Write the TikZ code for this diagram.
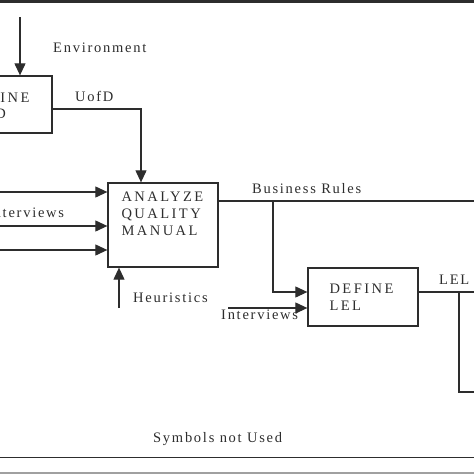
\documentclass[tikz,border=0pt]{standalone}
\usepackage{fontspec}
\usepackage{tikz}
\usetikzlibrary{arrows.meta,positioning}
\setmainfont{Liberation Serif}
\newfontfamily\lblfont[LetterSpace=12]{Liberation Serif}
\newfontfamily\boxfont[LetterSpace=17]{Liberation Serif}
\definecolor{idefline}{RGB}{45,45,45}
\definecolor{idefgray}{RGB}{160,160,160}

\begin{document}
\begin{tikzpicture}[x=1pt,y=-1pt,
  proc/.style={draw=idefline,line width=1.3pt,rectangle,minimum width=110pt,inner sep=0pt},
  btxt/.style={inner sep=0pt,align=left,text=idefline,font=\boxfont\fontsize{14.5}{16.8}\selectfont},
  lbl/.style={inner sep=0pt,anchor=base west,text=idefline,font=\lblfont\fontsize{14.5}{17}\selectfont},
  flow/.style={draw=idefline,line width=1.1pt,-{Triangle[length=12pt,width=11pt]}},
  wire/.style={draw=idefline,line width=1.1pt}]
\useasboundingbox (0,0) rectangle (474,474);
\clip (0,0) rectangle (474,474);

% 页面边框
\fill[idefline] (0,0) rectangle (474,2.5);
\draw[idefline,line width=0.9pt] (-5,457) -- (480,457);
\fill[idefgray] (0,471.5) rectangle (474,474);

% 三个活动框
\node[proc,minimum height=57pt] (uofd) at (-3,104.5) {};
\node[proc,minimum height=84pt] (aqm) at (163,225) {};
\node[proc,minimum height=58pt] (lel) at (363,297) {};

\node[btxt,below right=17pt and 24pt of uofd.north west] (uofdtxt) {DEFINE\\UofD};
\node[btxt,below right=9.5pt and 14pt of aqm.north west] (aqmtxt) {ANALYZE\\QUALITY\\MANUAL};
\node[btxt,below right=16.5pt and 22pt of lel.north west] (leltxt) {DEFINE\\LEL};

% 端点
\coordinate (envsrc) at (20,17);
\coordinate (ina) at (-5,192);
\coordinate (inb) at (-5,226);
\coordinate (inc) at (-5,250);
\coordinate (heur) at (119,308);
\coordinate (brsplit) at (273,201);
\coordinate (brend) at (480,201);
\coordinate (intv) at (228,308);
\coordinate (lelsplit) at (459,292);
\coordinate (lelend) at (480,292);
\coordinate (lelout) at (480,392);

% 连接线
\draw[flow] (envsrc) -- (envsrc |- uofd.north);
\draw[flow] ([yshift=-4.5pt]uofd.east) -| ([xshift=-22pt]aqm.north);
\draw[flow] (ina) -- (ina -| aqm.west);
\draw[flow] (inb) -- (inb -| aqm.west);
\draw[flow] (inc) -- (inc -| aqm.west);
\draw[flow] (heur) -- (heur |- aqm.south);
\draw[wire] ([yshift=24pt]aqm.east) -- (brend);
\draw[flow] (brsplit) |- ([yshift=5pt]lel.west);
\draw[flow] (intv) -- (intv -| lel.west);
\draw[wire] ([yshift=5pt]lel.east) -- (lelend);
\draw[wire] (lelsplit) |- (lelout);

% 标注
\node[lbl] (envlbl) at (53,52) {Environment};
\node[lbl] (uofdlbl) at (75,101) {UofD};
\node[lbl] (intlbl) at (-13,217) {Interviews};
\node[lbl] (heurlbl) at (133,302) {Heuristics};
\node[lbl] (brlbl) at (252,193) {Business Rules};
\node[lbl] (intlbl2) at (221,319) {Interviews};
\node[lbl] (lellbl) at (439,284) {LEL};
\node[lbl] (symlbl) at (153,442) {Symbols not Used};
\end{tikzpicture}
\end{document}
